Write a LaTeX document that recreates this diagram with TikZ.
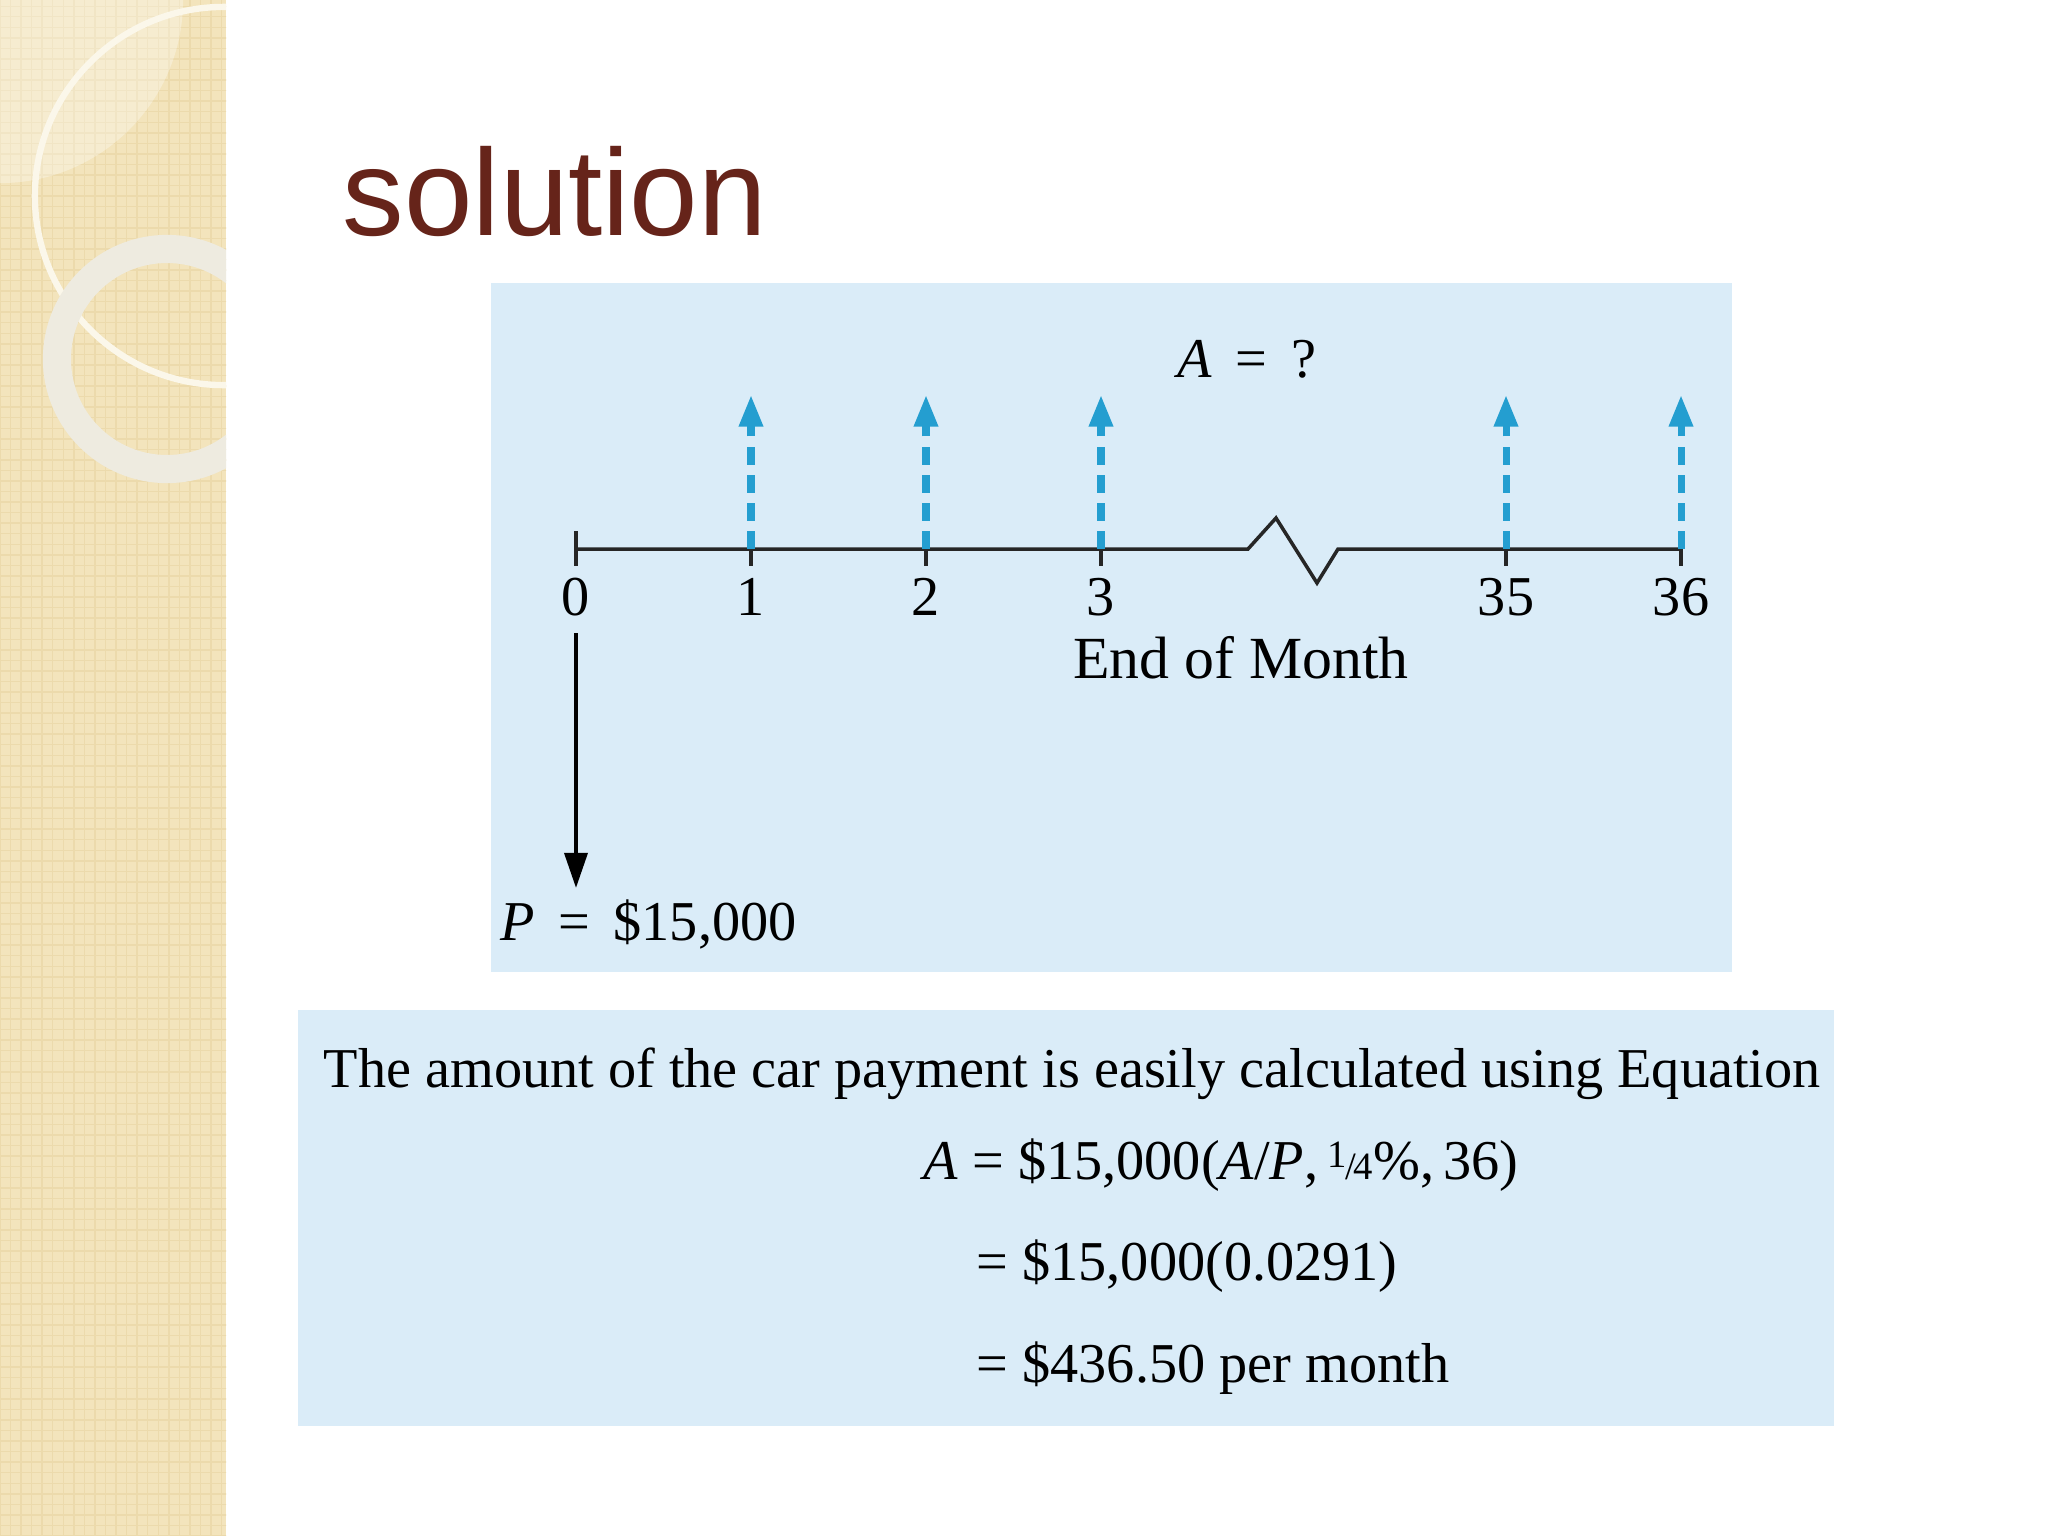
\documentclass[tikz,border=0pt]{standalone}
\usepackage{fontspec}
\setmainfont{Liberation Serif}
\newfontfamily\titlefont{Liberation Sans}
\usetikzlibrary{arrows.meta,patterns,positioning}
\definecolor{stripbg}{RGB}{243,228,188}
\definecolor{stripgrid}{RGB}{236,218,172}
\definecolor{ringcol}{RGB}{251,247,234}
\definecolor{ringthick}{RGB}{238,235,224}
\definecolor{panelbg}{RGB}{218,236,248}
\definecolor{cashblue}{RGB}{36,158,208}
\definecolor{titlecol}{RGB}{102,36,26}
\newcommand{\qfrac}{{\fontsize{11}{12}\selectfont\raisebox{0.65ex}{1}\kern-0.05em/\kern-0.05em4}}

\begin{document}
\begin{tikzpicture}
  [
    x=0.01cm, y=-0.01cm,
    panel/.style={fill=panelbg, draw=none},
    axisline/.style={line width=1pt, black!85},
    tickmark/.style={line width=1pt, black!85},
    receipt/.style={cashblue, line width=2pt, dash pattern=on 5pt off 3pt, -{Triangle[length=9pt,width=6.5pt]}},
    payout/.style={line width=1.2pt, -{Triangle[length=10pt,width=6.5pt]}},
    lbl/.style={font=\fontsize{16}{19}\selectfont, inner sep=0pt, anchor=base},
    body/.style={font=\fontsize{16}{19}\selectfont, inner sep=0pt, anchor=base west}
  ]
  \fill[white] (0,0) rectangle (2048,1536);
  \useasboundingbox (0,0) rectangle (2048,1536);

  % side strip
  \fill[stripbg] (0,0) rectangle (226,1536);
  \fill[pattern=grid, pattern color=stripgrid] (0,0) rectangle (226,1536);
  \begin{scope}
    \clip (0,0) rectangle (226,1536);
    \fill[white, opacity=0.3] (0,0) circle[radius=1.83cm];
    \draw[ringcol, line width=1.8pt] (224,196) circle[radius=1.89cm];
    \draw[ringthick, line width=8pt] (167,359) circle[radius=1.10cm];
  \end{scope}

  \node (title) [anchor=base west, inner sep=0pt, text=titlecol, font=\titlefont\fontsize{35}{40}\selectfont] at (342,235) {solution};

  % cash flow diagram
  \fill[panel] (491,283) rectangle (1732,972);
  \foreach \n/\x in {0/576,1/751,2/926,3/1101,35/1506,36/1681} {
    \coordinate (t\n) at (\x,549);
    \draw[tickmark] (t\n) -- ++(0,17);
    \node (l\n) [lbl] at (\x,615) {\n};
  }
  \draw[tickmark] (t0) -- ++(0,-18);
  \coordinate (z1) at (1248,549);
  \coordinate (z2) at (1276,518);
  \coordinate (z3) at (1317,583);
  \coordinate (z4) at (1338,549);
  \draw[axisline] (t0) -- (z1) -- (z2) -- (z3) -- (z4) -- (t36);

  \foreach \n/\x in {1/751,2/926,3/1101,35/1506,36/1681} {
    \coordinate (a\n) at (\x,395);
    \draw[receipt] (t\n) -- (a\n);
  }

  \node (aq) [lbl] at (1247,377) {\textit{A}\,\ =\,\ ?};
  \node (month) [lbl, font=\fontsize{17}{20}\selectfont] at (1241,678) {End of Month};

  \coordinate (p0) at (576,633);
  \coordinate (p1) at (576,888);
  \draw[payout] (p0) -- (p1);
  \node (pval) [body] at (500,940) {\textit{P}\,\ =\,\ \$15,000};

  % solution text
  \fill[panel] (298,1010) rectangle (1834,1426);
  \node (intro) [body] at (323,1087) {The amount of the car payment is easily calculated using Equation};
  \node (eq1) [body] at (923,1179) {\textit{A} = \$15,000(\textit{A}/\textit{P},\,\qfrac\%,\,36)};
  \node (eq2) [body] at (976,1280) {= \$15,000(0.0291)};
  \node (eq3) [body] at (976,1382) {= \$436.50 per month};
\end{tikzpicture}
\end{document}
